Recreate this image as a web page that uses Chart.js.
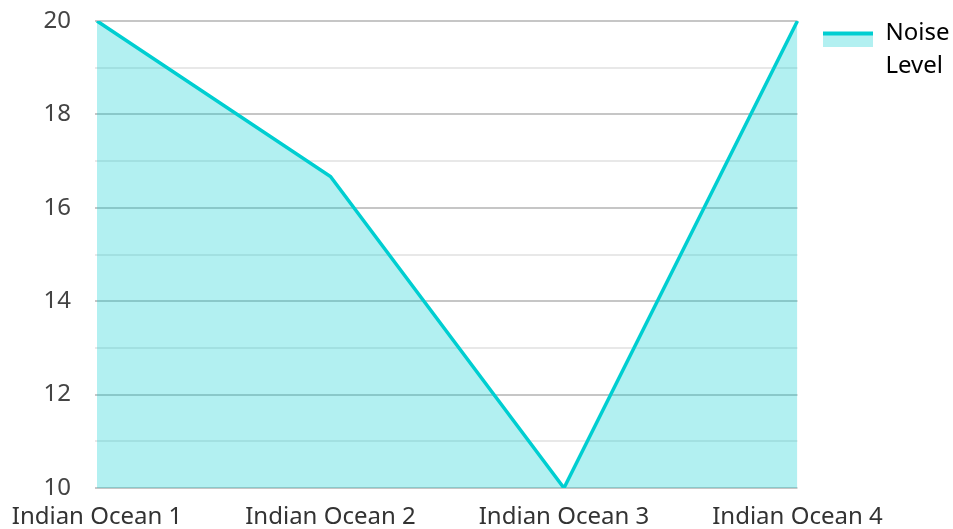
<!DOCTYPE html>
<html>
<head>
<meta charset="utf-8">
<script src="https://cdn.jsdelivr.net/npm/chart.js@4/dist/chart.umd.min.js"></script>
<style>
  html, body { margin: 0; padding: 0; background: #fff; }
  #wrap { width: 953px; height: 529px; }
</style>
</head>
<body>
<div id="wrap"><canvas id="c" width="953" height="529"></canvas></div>
<script>
const categories = ['Indian Ocean 1', 'Indian Ocean 2', 'Indian Ocean 3', 'Indian Ocean 4'];
const noiseLevel = [20, 16.67, 10, 20];
const seriesName = ['Noise', 'Level'];
const yTicks = [10, 12, 14, 16, 18, 20];

const LINE = 'rgb(0, 206, 209)';
const FILL = 'rgba(0, 206, 209, 0.3)';

// legend swatch: thick line on top of a light filled block,
// drawn in the lower part of the image so it sits a little below the first text line
function makeSwatch() {
  const cv = document.createElement('canvas');
  cv.width = 50; cv.height = 27;
  const g = cv.getContext('2d');
  g.fillStyle = FILL;
  g.fillRect(0, 12, 50, 15);
  g.fillStyle = LINE;
  g.fillRect(0, 12, 50, 4);
  return cv;
}
const swatch = makeSwatch();

Chart.defaults.font.family = '"Noto Sans", "Open Sans", sans-serif';
Chart.defaults.font.size = 24;
Chart.defaults.color = '#444';

new Chart(document.getElementById('c'), {
  type: 'line',
  data: {
    labels: categories,
    datasets: [{
      label: seriesName.join(' '),
      data: noiseLevel,
      borderColor: LINE,
      backgroundColor: FILL,
      borderWidth: 3.5,
      fill: 'origin',
      pointRadius: 0,
      tension: 0
    }]
  },
  options: {
    responsive: false,
    animation: false,
    layout: { padding: { top: -5, right: 0, bottom: 0, left: 12 } },
    plugins: {
      tooltip: { enabled: false },
      legend: {
        position: 'right',
        align: 'start',
        labels: {
          usePointStyle: true,
          pointStyleWidth: 50,
          boxHeight: 15,
          padding: 26,
          font: { size: 24, lineHeight: 1.375 },
          color: '#333',
          generateLabels(chart) {
            return chart.data.datasets.map((ds, i) => ({
              text: seriesName,
              pointStyle: swatch,
              fillStyle: FILL,
              strokeStyle: LINE,
              lineWidth: 0,
              hidden: false,
              datasetIndex: i
            }));
          }
        }
      }
    },
    scales: {
      x: {
        offset: false,
        grid: { display: false, drawTicks: false },
        border: { display: false },
        ticks: { color: '#333', maxRotation: 0, padding: 15 },
        // fixed band for the category labels under the plot
        afterFit(scale) {
          scale.height = 41;
          scale.paddingLeft = 97;
        }
      },
      y: {
        min: 10,
        max: 20,
        border: { display: false },
        grid: {
          tickLength: 2,
          lineWidth: 2,
          color: (ctx) => (ctx.tick && yTicks.includes(ctx.tick.value)) ? '#c6c6c6' : '#e8e8e8'
        },
        ticks: {
          stepSize: 1,
          padding: 24,
          color: '#444',
          callback: (v) => yTicks.includes(v) ? String(v) : ''
        },
        // keep the horizontal tick padding without pushing the plot down from the top
        afterFit(scale) {
          scale.paddingTop = 21;
          scale.paddingBottom = 10;
        }
      }
    }
  }
});
</script>
</body>
</html>
